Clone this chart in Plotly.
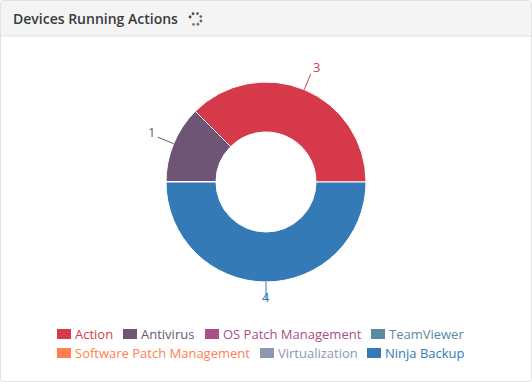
import numpy as np
import plotly.graph_objects as go

categories = ["Action", "Antivirus", "OS Patch Management", "TeamViewer",
              "Software Patch Management", "Virtualization", "Ninja Backup"]
values = [3, 1, 0, 0, 0, 0, 4]
colors = ["#d63a4a", "#6e5576", "#aa5086", "#5a8a9f", "#ff7f50", "#8a99b0", "#337ab7"]
chart_title = "Devices Running Actions"

W, H = 532, 382
CX, CY, R = 266, 182, 100
FONT = "Open Sans"


def px(x):
    return x / W


def py(y):
    return 1 - y / H


def rounded(x0, y0, x1, y1, rt, rb):
    return (f"M {px(x0 + rt)} {py(y0)} L {px(x1 - rt)} {py(y0)} "
            f"Q {px(x1)} {py(y0)} {px(x1)} {py(y0 + rt)} L {px(x1)} {py(y1 - rb)} "
            f"Q {px(x1)} {py(y1)} {px(x1 - rb)} {py(y1)} L {px(x0 + rb)} {py(y1)} "
            f"Q {px(x0)} {py(y1)} {px(x0)} {py(y1 - rb)} L {px(x0)} {py(y0 + rt)} "
            f"Q {px(x0)} {py(y0)} {px(x0 + rt)} {py(y0)} Z")


total = sum(values)
fig = go.Figure(go.Pie(
    labels=categories, values=values, hole=0.5, sort=False,
    direction="counterclockwise", rotation=90 - values[0] / total * 360,
    marker=dict(colors=colors, line=dict(color="#ffffff", width=1)),
    textinfo="none", hoverinfo="label+value", showlegend=False,
    domain=dict(x=[px(CX - R), px(CX + R)], y=[py(CY + R), py(CY - R)]),
))

shapes = [
    dict(type="path", xref="paper", yref="paper", path=rounded(0.5, 0.5, W - 0.5, H - 0.5, 3, 3),
         line=dict(color="#e1e1e1", width=1), fillcolor="#ffffff", layer="below"),
    dict(type="path", xref="paper", yref="paper", path=rounded(1, 1, W - 1, 36, 3, 0),
         line=dict(width=0), fillcolor="#f4f4f4", layer="below"),
    dict(type="line", xref="paper", yref="paper", x0=px(1), x1=px(W - 1), y0=py(36), y1=py(36),
         line=dict(color="#e1e1e1", width=1), layer="below"),
]
annotations = [dict(text=chart_title, xref="paper", yref="paper", x=px(11), y=py(19),
                    xanchor="left", yanchor="middle", showarrow=False,
                    font=dict(family=FONT, size=14, color="#363b40", weight=600))]

# spinner
for i, deg in enumerate([200, 245, 290, 335, 20, 65, 110]):
    a = np.radians(deg)
    x, y = 195.5 + 5.8 * np.cos(a), 19 + 5.8 * np.sin(a)
    r = 1.4
    shapes.append(dict(type="circle", xref="paper", yref="paper",
                       x0=px(x - r), x1=px(x + r), y0=py(y + r), y1=py(y - r),
                       line=dict(width=0), fillcolor="#3a3a3a", opacity=0.95 - 0.05 * i))

# value labels with leader lines, placed from the data
label_r = {0: (131, 124), 1: (124, 130), 6: (115, 115)}
cum = 0
for i, (v, c) in enumerate(zip(values, colors)):
    if v:
        a = (cum + v / 2) / total * 2 * np.pi
        ux, uy = np.cos(a), -np.sin(a)
        x0, y0 = CX + R * ux, CY + R * uy
        x1, y1 = CX + (R + 17) * ux, CY + (R + 17) * uy
        tx, ty = CX + label_r[i][0] * ux, CY + label_r[i][1] * uy
        shapes.append(dict(type="line", xref="paper", yref="paper",
                           x0=px(x0), y0=py(y0), x1=px(x1), y1=py(y1),
                           line=dict(color=c, width=1)))
        annotations.append(dict(text=str(v), xref="paper", yref="paper", x=px(tx), y=py(ty),
                                xanchor="center", yanchor="middle", showarrow=False,
                                font=dict(family=FONT, size=13, color=c)))
    cum += v

# legend
rows = [(categories[:4], colors[:4], [57, 123, 205, 371], 334),
        (categories[4:], colors[4:], [57, 260, 367], 353)]
for names, cols, xs, y in rows:
    for n, c, x in zip(names, cols, xs):
        shapes.append(dict(type="rect", xref="paper", yref="paper",
                           x0=px(x), x1=px(x + 14), y0=py(y + 5), y1=py(y - 5),
                           line=dict(width=0), fillcolor=c))
        annotations.append(dict(text=n, xref="paper", yref="paper", x=px(x + 16), y=py(y - 0.5),
                                xanchor="left", yanchor="middle", showarrow=False,
                                font=dict(family=FONT, size=13, color=c)))

fig.update_layout(width=W, height=H, margin=dict(l=0, r=0, t=0, b=0),
                  paper_bgcolor="#ffffff", plot_bgcolor="#ffffff",
                  shapes=shapes, annotations=annotations)
fig.write_html("out.html", config=dict(displayModeBar=False),
               post_script="document.body.style.margin='0';")
